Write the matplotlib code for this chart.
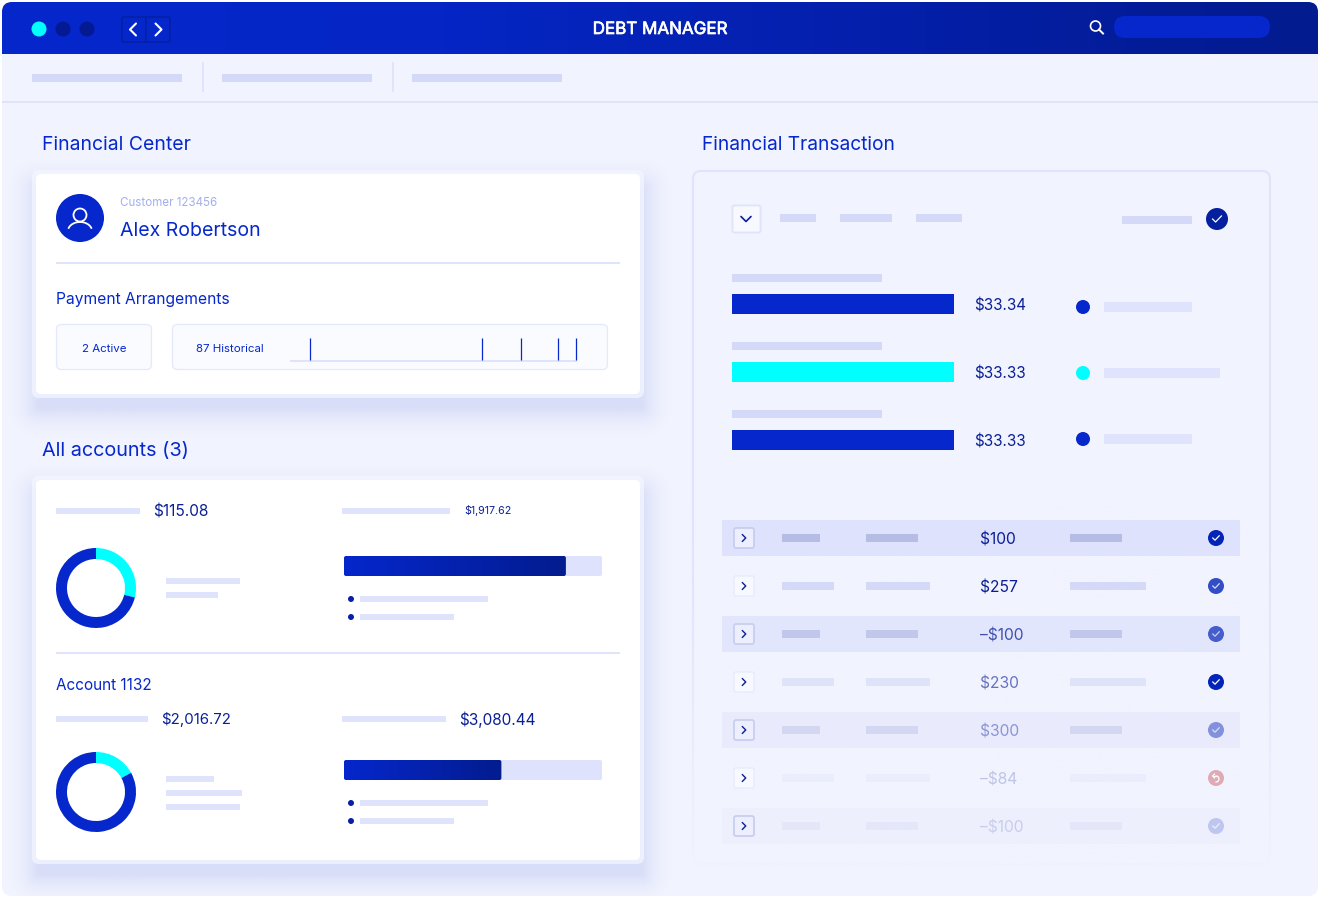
# library imports
import matplotlib
matplotlib.use("Agg")
import matplotlib.patheffects as pe
import matplotlib.pyplot as plt
import numpy as np
from matplotlib.colors import LinearSegmentedColormap, to_rgb
from matplotlib.patches import Circle, FancyBboxPatch, Rectangle

W, H = 1320, 918
BLUE = "#0527CC"
NAVY = "#0A1F96"
CYAN = "#00FFFF"
LINE = "#DFE3FC"
BAR = "#D3D9F7"
BG = "#F1F3FE"

# chart values
arrangements = ["2 Active", "87 Historical"]
historical_events = [7, 67, 80.5, 93.6, 99.7]  # percent of the strip
summary_top = ["$115.08", "$1,917.62"]
summary_bottom = ["$2,016.72", "$3,080.44"]
donut_shares = [0.288, 0.17]
progress_shares = [0.86, 0.61]
split_labels = ["$33.34", "$33.33", "$33.33"]
split_values = [33.34, 33.33, 33.33]
split_colors = [BLUE, CYAN, BLUE]
row_amounts = ["$100", "$257", "-$100", "$230", "$300", "-$84", "-$100"]
row_fade = [1, 1, 0.75, 0.6, 0.42, 0.22, 0.16]
check_fade = [1, 0.8, 0.7, 1, 0.45, 0.42, 0.2]

plt.rcParams["font.family"] = ["Inter", "DejaVu Sans"]

fig = plt.figure(figsize=(W / 100, H / 100), dpi=100, facecolor="white")
ax = fig.add_axes([0, 0, 1, 1])
ax.set_xlim(0, W)
ax.set_ylim(H, 0)
ax.axis("off")
ax.set_autoscale_on(False)


def px(size):
    return size * 72 / 100


def rbox(x0, y0, x1, y1, r=0, fc="none", ec="none", lw=0, alpha=None, z=2):
    p = FancyBboxPatch((x0 + r, y0 + r), x1 - x0 - 2 * r, y1 - y0 - 2 * r,
                       boxstyle=f"round,pad={r},rounding_size={r}" if r else "square,pad=0",
                       fc=fc, ec=ec, lw=lw, alpha=alpha, zorder=z)
    ax.add_patch(p)
    return p


def bar(x0, y0, x1, y1, color=BAR, alpha=None, z=3):
    ax.add_patch(Rectangle((x0, y0), x1 - x0, y1 - y0, fc=color, ec="none", alpha=alpha, zorder=z))


def gradient(x0, y0, x1, y1, colors, clip=None, z=3):
    cmap = LinearSegmentedColormap.from_list("g", colors)
    im = ax.imshow(np.linspace(0, 1, 256).reshape(1, -1), extent=(x0, x1, y1, y0),
                   cmap=cmap, aspect="auto", zorder=z, interpolation="bilinear")
    if clip is not None:
        im.set_clip_path(clip)
    return im


def label(x, y, s, size, color=BLUE, ha="left", alpha=None, bold=False, z=6):
    t = ax.text(x, y, s, fontsize=px(size), color=color, ha=ha, va="center_baseline",
                alpha=alpha, zorder=z)
    if bold:
        t.set_path_effects([pe.withStroke(linewidth=0.5, foreground=color)])


def chevron(x, y, d, color=NAVY, lw=1.0, alpha=None, s=3.5):
    # d is the direction the chevron points at
    if d == ">":
        xs, ys = [x - s / 2, x + s / 2, x - s / 2], [y - s, y, y + s]
    elif d == "<":
        xs, ys = [x + s / 2, x - s / 2, x + s / 2], [y - s, y, y + s]
    else:
        xs, ys = [x - s, x, x + s], [y - s / 2, y + s / 2, y - s / 2]
    ax.plot(xs, ys, color=color, lw=lw, alpha=alpha, zorder=7, solid_capstyle="round")


def check(x, y, r, color=BLUE, alpha=1.0):
    ax.add_patch(Circle((x, y), r, fc=color, ec="none", alpha=alpha, zorder=6))
    s = r / 8
    ax.plot([x - 3.2 * s, x - 1 * s, x + 3.2 * s], [y, y + 2.2 * s, y - 2.2 * s],
            color="white", lw=0.9, alpha=max(alpha, 0.7), zorder=7)


def undo(x, y, r, color, alpha):
    ax.add_patch(Circle((x, y), r, fc=color, ec="none", alpha=alpha, zorder=6))
    t = np.radians(np.linspace(-90, 90, 20))
    ax.plot(x + 3 * np.cos(t), y + 1 + 3 * np.sin(t), color="white", lw=0.9, zorder=7)
    ax.plot([x + 0.5, x - 3.5], [y - 2, y - 2], color="white", lw=0.9, zorder=7)
    ax.plot([x - 1.5, x - 3.5, x - 1.5], [y - 4, y - 2, y], color="white", lw=0.9, zorder=7)


def shadow(x0, y0, x1, y1, spread=34):
    # soft blue shadow, pushed down and slightly right of the card
    x0, x1, y0, y1 = x0 + 2, x1 + 2, y0 + 14, y1 + 14
    xs = np.arange(x0 - spread, x1 + spread + 1)
    ys = np.arange(y0 - spread, y1 + spread + 1)
    dx = np.maximum(np.maximum(x0 - xs, xs - x1), 0)
    dy = np.maximum(np.maximum(y0 - ys, ys - y1), 0)
    d = np.hypot(*np.meshgrid(dx, dy))
    rgba = np.zeros(d.shape + (4,))
    rgba[..., :3] = to_rgb("#8C9CE6")
    rgba[..., 3] = 0.24 * np.clip(1 - d / spread, 0, 1) ** 2
    im = ax.imshow(rgba, extent=(xs[0], xs[-1], ys[-1], ys[0]), aspect="auto", zorder=2,
                   interpolation="bilinear")
    im.set_clip_path(window)


def card(x0, y0, x1, y1):
    shadow(x0, y0, x1, y1)
    rbox(x0 - 4, y0 - 4, x1 + 4, y1 + 4, r=7, fc="#F4F6FF", alpha=0.75, z=2.5)
    rbox(x0, y0, x1, y1, r=5, fc="white", z=3)


def donut(cx, cy, share):
    a = fig.add_axes([(cx - 40) / W, 1 - (cy + 40) / H, 80 / W, 80 / H])
    a.pie([share, 1 - share], colors=[CYAN, BLUE], startangle=90, counterclock=False,
          radius=1, wedgeprops={"width": 11 / 40, "linewidth": 0})
    a.set_xlim(-1, 1)
    a.set_ylim(-1, 1)


def progress(y0, share):
    x0, x1 = 344, 602
    rbox(x0, y0, x1, y0 + 20, r=2, fc="#DEE2FC", z=4)
    end = x0 + (x1 - x0) * share
    clip = rbox(x0, y0, end, y0 + 20, r=2, fc="none", z=4)
    gradient(x0, y0, end, y0 + 20, [BLUE, "#031C8F"], clip=clip, z=5)


# window and title bar
window = rbox(2, 2, 1318, 896, r=10, fc=BG, z=1)
gradient(2, 2, 1318, 54, [BLUE, "#0526C4", "#041FAA", "#021B8E"], z=1.5).set_clip_path(window)
ax.add_patch(Circle((39, 29), 7.5, fc=CYAN, ec="none", zorder=4))
for x in (63, 87):
    ax.add_patch(Circle((x, 29), 7.5, fc="#031A93", ec="none", zorder=4))
rbox(122, 17, 170, 42, r=2, ec="#0320A8", lw=1.2, z=4)
ax.plot([146, 146], [17, 42], color="#0320A8", lw=1.1, zorder=4)
chevron(133, 29.5, "<", "white", lw=1.5, s=6)
chevron(158.5, 29.5, ">", "white", lw=1.5, s=6)
label(660, 27.5, "DEBT MANAGER", 17, "white", ha="center", bold=True)
ax.add_patch(Circle((1095.5, 26), 5, fc="none", ec="white", lw=1.2, zorder=4))
ax.plot([1099, 1103], [29.5, 33.5], color="white", lw=1.4, zorder=4)
rbox(1114, 16, 1270, 38, r=11, fc=BLUE, z=4)

# toolbar
for x0 in (32, 222, 412):
    bar(x0, 74, x0 + 150, 82)
for x in (203, 393):
    bar(x - 1, 62, x + 1, 92, LINE)
bar(2, 101, 1318, 103, LINE)

label(42, 143.5, "Financial Center", 19.4)
label(42, 449, "All accounts (3)", 19.8)
label(702, 143.5, "Financial Transaction", 19.2)

# financial center card
card(36, 174, 640, 394)
ax.add_patch(Circle((80, 218), 24, fc=BLUE, ec="none", zorder=4))
ax.add_patch(Circle((80, 215), 6.5, fc="none", ec="white", lw=1.3, zorder=5))
t = np.radians(np.linspace(200, 340, 30))
ax.plot(80 + 12 * np.cos(t), 231 + 9 * np.sin(t), color="white", lw=1.3, zorder=5)
label(120, 202, "Customer 123456", 11.6, "#A4AFEC")
label(120, 229.5, "Alex Robertson", 19.5)
bar(56, 262, 620, 264, LINE)
label(56, 298, "Payment Arrangements", 15.6)
rbox(56.5, 324.5, 151.5, 369.5, r=5, fc="#FAFBFF", ec="#E4E8FC", lw=0.9, z=4)
rbox(172.5, 324.5, 607.5, 369.5, r=5, fc="#FAFBFF", ec="#E4E8FC", lw=0.9, z=4)
label(104, 348, arrangements[0], 11.5, ha="center")
label(196, 348, arrangements[1], 11.5)
bar(290, 360, 577, 362, LINE, z=5)
ax.vlines([290 + v * 2.87 - 0.5 for v in historical_events], 338, 360, color=BLUE, lw=0.9, zorder=6)

# accounts card
card(36, 480, 640, 860)
bar(56, 508, 140, 514, LINE)
label(153, 510, summary_top[0], 15.5, NAVY)
bar(342, 508, 450, 514, LINE)
label(464, 510, summary_top[1], 10.6, NAVY)
donut(96, 588, donut_shares[0])
bar(166, 578, 240, 584, LINE)
bar(166, 592, 218, 598, LINE)
progress(556, progress_shares[0])
for yb, x1 in ((599, 488), (617, 454)):
    ax.add_patch(Circle((351, yb), 3, fc="#0A1FA8", ec="none", zorder=5))
    bar(360, yb - 3, x1, yb + 3, LINE)
bar(56, 652, 620, 654, LINE)
label(56, 684, "Account 1132", 15.3)
bar(56, 716, 148, 722, LINE)
label(161.5, 718, summary_bottom[0], 15, NAVY)
bar(342, 716, 446, 722, LINE)
label(459.5, 718, summary_bottom[1], 15.4, NAVY)
donut(96, 792, donut_shares[1])
for y0, x1 in ((776, 214), (790, 242), (804, 240)):
    bar(166, y0, x1, y0 + 6, LINE)
progress(760, progress_shares[1])
for yb, x1 in ((803, 488), (821, 454)):
    ax.add_patch(Circle((351, yb), 3, fc="#0A1FA8", ec="none", zorder=5))
    bar(360, yb - 3, x1, yb + 3, LINE)

# transaction panel, border fades out towards the bottom
rbox(693, 171, 1270, 864, r=8, ec=LINE, lw=1.5, z=1.7)
fade = np.linspace(0, 1, 200).reshape(-1, 1)
fade_rgba = np.zeros((200, 1, 4))
fade_rgba[..., :3] = to_rgb(BG)
fade_rgba[..., 3] = fade ** 1.2 * 0.98
ax.imshow(fade_rgba, extent=(685, 1280, 866, 500), aspect="auto", zorder=1.8)

rbox(732.5, 205.5, 760.5, 232.5, r=2, fc="#F8F9FF", ec=LINE, lw=1.3, z=4)
chevron(746, 219, "v", NAVY, lw=1.2, s=5)
for x0, x1 in ((780, 816), (840, 892), (916, 962)):
    bar(x0, 214, x1, 222)
bar(1122, 216, 1192, 224)
check(1217, 219, 11, "#04209E")

# split bars drawn from their amounts
split_y = [304, 372, 440]
ax.barh(split_y, [v / max(split_values) * 222 for v in split_values], height=20, left=732,
        color=split_colors, zorder=4)
for y, s, c, x1, yd in zip(split_y, split_labels, split_colors, (1192, 1220, 1192), (307, 373, 439)):
    bar(732, y - 30, 882, y - 22)
    label(974, y + 0.5, s, 15.2, NAVY)
    ax.add_patch(Circle((1083, yd), 7, fc=c, ec="none", zorder=5))
    bar(1104, yd - 5, x1, yd + 5, LINE)

# transaction rows
for i, amount in enumerate(row_amounts):
    y = 538 + i * 48
    a = row_fade[i]
    odd = i % 2 == 0
    if odd:
        bar(722, y - 18, 1240, y + 18, "#DEE2FC", alpha=max(a, 0.18), z=2)
        rbox(734, y - 10, 754, y + 10, r=2, fc="#EDEFFE", ec="#C6CCF0", lw=1.2, z=4)
        ph = "#B6BDE5"
        w1, w2, w3 = 38, 52, 52
    else:
        rbox(734, y - 10, 754, y + 10, r=2, fc="#F8F9FF", ec="#E8EBFD", lw=1.0, z=4)
        ph = "#D3D9F7"
        w1, w2, w3 = 52, 64, 76
    chevron(744, y, ">", NAVY)
    bar(782, y - 4, 782 + w1, y + 4, ph, alpha=max(a, 0.15))
    bar(866, y - 4, 866 + w2, y + 4, ph, alpha=max(a, 0.15))
    bar(1070, y - 4, 1070 + w3, y + 4, ph, alpha=max(a, 0.15))
    label(980, y + 0.5, amount.replace("-", "\u2013"), 15.6, NAVY, alpha=a)
    if amount == "-$84":
        undo(1216, y, 8, "#C8474F", check_fade[i])
    else:
        check(1216, y, 8, "#0424B8", alpha=check_fade[i])

fig.savefig("out.png", dpi=100, facecolor="white")
